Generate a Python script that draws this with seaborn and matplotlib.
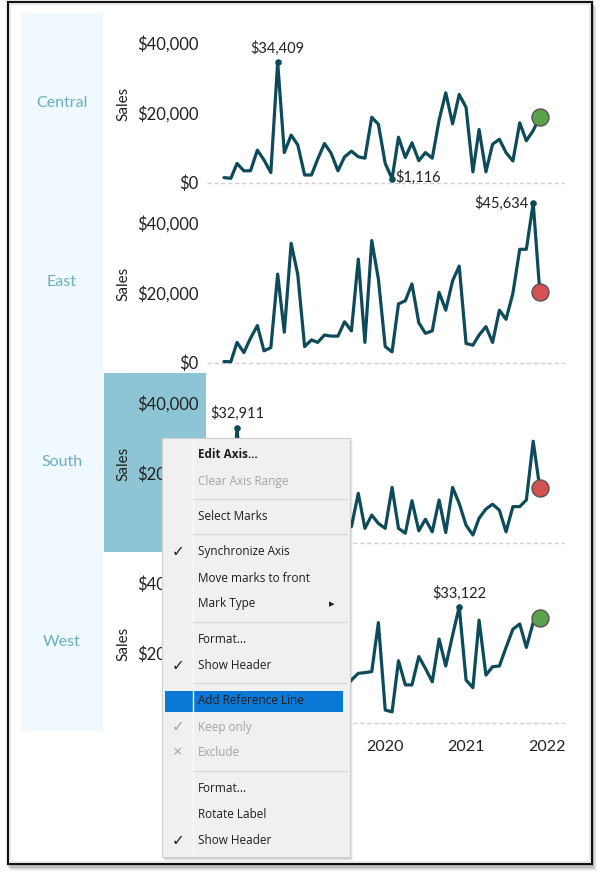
import matplotlib.pyplot as plt
import matplotlib.patches as mpatches
import matplotlib.ticker as mticker
import seaborn as sns
import numpy as np
import pandas as pd

sns.set_theme(style='white')
plt.rcParams['font.family'] = ['Lato', 'DejaVu Sans']

# ---- data ----
regions = ['Central', 'East', 'South', 'West']
months = pd.date_range('2018-01-01', periods=48, freq='MS')

central_sales = [1450, 1250, 5500, 3400, 3400, 9300, 6500, 2900, 34409, 8600,
                 13600, 10800, 2200, 2200, 6700, 11200, 8400, 3400, 7400, 9000,
                 7400, 7000, 18700, 16700, 5500, 1116, 13000, 7200, 11400, 6300,
                 8600, 7000, 17900, 25700, 16800, 25200, 21500, 3100, 15200, 3100,
                 11000, 12400, 8600, 6200, 17100, 12000, 14900, 18900]
east_sales = [320, 280, 5800, 2900, 7000, 10600, 3400, 4300, 25300, 8700,
              34100, 25200, 4600, 6500, 5800, 7900, 7600, 7600, 11700, 9100,
              29600, 5800, 34900, 23900, 4600, 3100, 16800, 17700, 22500, 11400,
              8400, 9100, 20100, 15000, 23400, 27600, 5500, 5000, 7900, 10300,
              5800, 15000, 12400, 19800, 32400, 32400, 45634, 20100]
south_sales = [2200, 3800, 32911, 4200, 7800, 5600, 9500, 3100, 10500, 6800,
               12400, 4200, 9800, 5200, 7400, 3600, 11200, 6500, 8900, 4600,
               14100, 4100, 7900, 5500, 4100, 15800, 4100, 2700, 12000, 3400,
               6700, 3100, 12200, 2900, 15800, 11200, 5000, 2200, 7000, 9600,
               11000, 9300, 3100, 10300, 10300, 12200, 29000, 15500]
west_sales = [4500, 2200, 9800, 6200, 8100, 5200, 12800, 7400, 16300, 9200,
              14800, 18200, 7600, 11500, 9400, 13200, 6900, 15400, 9800, 12200,
              14100, 14300, 14600, 28600, 3600, 3100, 17700, 10800, 10800, 18900,
              15500, 11700, 23900, 16200, 25000, 33122, 12200, 10000, 29300, 13600,
              16000, 16200, 21500, 26700, 28200, 21500, 28600, 29800]

# 2018/2019 sit behind the context menu in the screenshot
year_ticks = ['2020-01-01', '2021-01-01', '2022-01-01']
year_labels = ['2020', '2021', '2022']
sales_ticks = [0, 20000, 40000]

menu_items = [
    ('Edit Axis...', 'bold', ''), ('Clear Axis Range', 'off', ''), '-',
    ('Select Marks', 'on', ''), '-',
    ('Synchronize Axis', 'on', 'check'), ('Move marks to front', 'on', ''),
    ('Mark Type', 'on', 'arrow'), '-',
    ('Format...', 'on', ''), ('Show Header', 'on', 'check'), '-',
    ('Add Reference Line', 'hl', ''), ('Keep only', 'off', 'check'),
    ('Exclude', 'off', 'x'), '-',
    ('Format...', 'on', ''), ('Rotate Label', 'on', ''), ('Show Header', 'on', 'check'),
]

df = pd.DataFrame({
    'Month': np.tile(months, len(regions)),
    'Region': np.repeat(regions, len(months)),
    'Sales': central_sales + east_sales + south_sales + west_sales,
})

LINE = '#0d4a5a'
HEAD_TXT = '#6aaec6'
W, H = 600, 881

fig = plt.figure(figsize=(6, 8.81), dpi=100)
fig.patch.set_facecolor('white')

def px_axes(x0, y0, x1, y1, z):
    return fig.add_axes([x0 / W, 1 - y1 / H, (x1 - x0) / W, (y1 - y0) / H], zorder=z)

# background: frame, header strip, highlighted axis
bg = px_axes(0, 0, W, H, 0)
bg.set_xlim(0, W); bg.set_ylim(H, 0); bg.axis('off')
for k, a in enumerate([0.10, 0.08, 0.06, 0.04]):
    bg.add_patch(mpatches.Rectangle((8 + k, 4 + k), 586, 864, fc='#000000', alpha=a, lw=0))
bg.add_patch(mpatches.Rectangle((8, 2), 584, 862, fc='white', ec='#111111', lw=1.6))
bg.add_patch(mpatches.Rectangle((10, 4), 580, 858, fc='none', ec='#e4e4e4', lw=1.2))
bg.add_patch(mpatches.Rectangle((21, 13), 82, 718, fc='#f0f9fd', lw=0))
bg.add_patch(mpatches.Rectangle((104, 373), 102, 179, fc='#8ec5d4', lw=0))
for r, name in enumerate(regions):
    bg.text(62, 103 + 179.5 * r, name, ha='center', va='center',
            fontsize=11.5, color=HEAD_TXT)

t0 = months[0]
for r, name in enumerate(regions):
    ax = px_axes(207, 14 + 180 * r, 565, 194 + 180 * r, 1)
    ax.set_facecolor('none')
    sub = df[df['Region'] == name].reset_index(drop=True)
    ax.axhline(0, color='#cfcfcf', lw=1, ls=(0, (3, 2)), zorder=0)
    sns.lineplot(data=sub, x='Month', y='Sales', color=LINE, lw=2.3, ax=ax, zorder=2)

    last = sub.iloc[-1]
    up = last['Sales'] >= sub['Sales'].iloc[-2]
    sns.scatterplot(x=[last['Month']], y=[last['Sales']], s=150,
                    color='#5aa34a' if up else '#d65252', edgecolor='#555555',
                    linewidth=1, ax=ax, zorder=4)

    imax = sub['Sales'].idxmax()
    mx, my = sub.loc[imax, 'Month'], sub.loc[imax, 'Sales']
    ax.scatter([mx], [my], s=14, color=LINE, zorder=3)
    if name == 'East':
        ax.annotate(f'${my:,.0f}', (mx, my), xytext=(-3, 0), textcoords='offset points',
                    ha='right', va='center', fontsize=10.5, color='#222222')
    else:
        ax.annotate(f'${my:,.0f}', (mx, my), xytext=(0, 10), textcoords='offset points',
                    ha='center', va='center', fontsize=10.5, color='#222222')
    if name == 'Central':
        imin = sub['Sales'].idxmin()
        nx, ny = sub.loc[imin, 'Month'], sub.loc[imin, 'Sales']
        ax.scatter([nx], [ny], s=14, color=LINE, zorder=3)
        ax.annotate(f'${ny:,.0f}', (nx, ny), xytext=(2, 1), textcoords='offset points',
                    ha='left', va='center', fontsize=10.5, color='#222222')

    ax.set_xlim(t0 - pd.Timedelta(days=77), t0 + pd.Timedelta(days=1544))
    ax.set_ylim(-3230, 48200)
    ax.set_yticks(sales_ticks)
    ax.yaxis.set_major_formatter(mticker.FuncFormatter(lambda v, _: f'${v:,.0f}'))
    ax.tick_params(axis='y', length=0, pad=6, labelsize=12, labelcolor='#222222')
    ax.set_ylabel('Sales', fontsize=11, color='#222222', labelpad=5)
    ax.set_xticks(pd.to_datetime(year_ticks))
    if r == len(regions) - 1:
        ax.set_xticklabels(year_labels)
        ax.tick_params(axis='x', length=0, pad=4, labelsize=11.5, labelcolor='#222222')
    else:
        ax.set_xticklabels([])
        ax.tick_params(axis='x', length=0)
    ax.set_xlabel('')
    sns.despine(ax=ax, left=True, bottom=True)
    ax.grid(False)

# context menu on top
mn = px_axes(0, 0, W, H, 10)
mn.set_xlim(0, W); mn.set_ylim(H, 0); mn.axis('off')
for k, a in enumerate([0.10, 0.07, 0.04]):
    mn.add_patch(mpatches.Rectangle((163 + k, 440 + k), 188, 419, fc='#000000', alpha=a, lw=0))
mn.add_patch(mpatches.Rectangle((162, 438), 188, 419, fc='#f0f0f0', ec='#d0d0d0', lw=0.8))
mn.plot([193, 193], [441, 854], color='#fbfbfb', lw=1)
menu_font = ['Open Sans', 'DejaVu Sans']
cur = 442
for item in menu_items:
    if item == '-':
        mn.plot([193, 347], [cur + 4.5, cur + 4.5], color='#d6d6d6', lw=0.9)
        cur += 9.5
        continue
    label, state, mark = item
    yc = cur + 13
    if state == 'hl':
        mn.add_patch(mpatches.Rectangle((165, yc - 10.5), 178, 21, fc='#0a78d6', lw=0))
    col = '#a3a3a3' if state == 'off' else '#1e1e1e'
    mn.text(198, yc, label, ha='left', va='center', fontsize=8.5, family=menu_font,
            color=col, fontweight='bold' if state == 'bold' else 'normal')
    if mark == 'check':
        mn.text(178, yc, '\u2713', ha='center', va='center', fontsize=11,
                family=['DejaVu Sans'], color=col)
    elif mark == 'x':
        mn.text(178, yc, '\u00d7', ha='center', va='center', fontsize=12,
                family=menu_font, color=col)
    elif mark == 'arrow':
        mn.text(332, yc, '\u25b8', ha='center', va='center', fontsize=8,
                family=['DejaVu Sans'], color=col)
    cur += 26

fig.savefig('out.png', dpi=100, facecolor='white')
